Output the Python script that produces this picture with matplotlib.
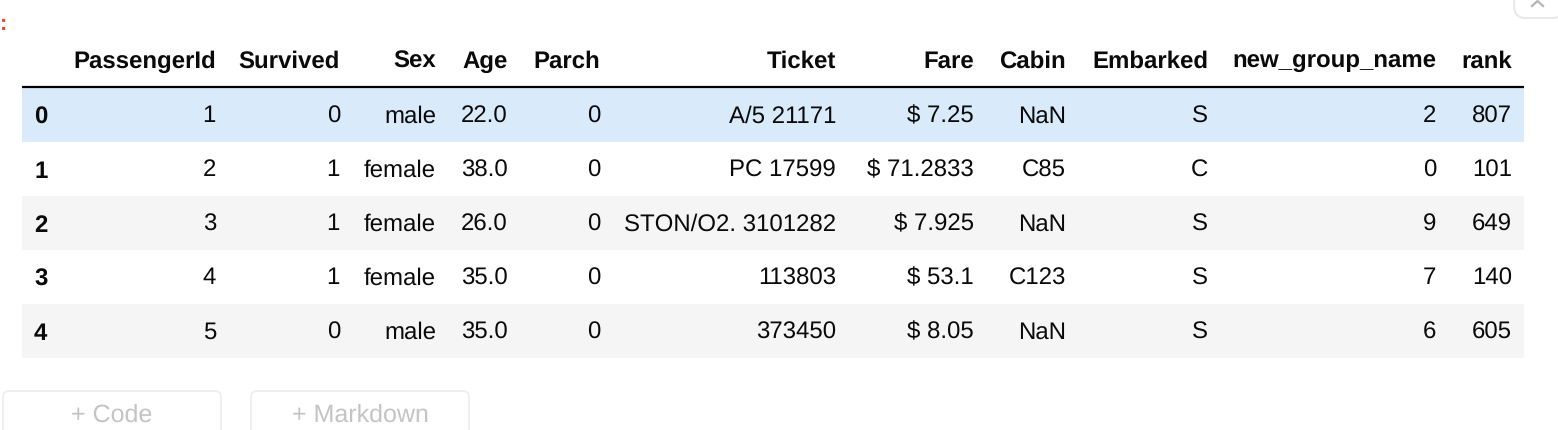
import matplotlib
matplotlib.use("Agg")
import matplotlib.pyplot as plt
from matplotlib.patches import Rectangle, FancyBboxPatch

plt.rcParams['font.family'] = ['Liberation Sans', 'DejaVu Sans']
plt.rcParams['text.hinting'] = 'none'
plt.rcParams['text.hinting_factor'] = 1

# table contents
columns = ['PassengerId', 'Survived', 'Sex', 'Age', 'Parch', 'Ticket', 'Fare',
           'Cabin', 'Embarked', 'new_group_name', 'rank']
index_labels = ['0', '1', '2', '3', '4']
passenger_id = ['1', '2', '3', '4', '5']
survived = ['0', '1', '1', '1', '0']
sex = ['male', 'female', 'female', 'female', 'male']
age = ['22.0', '38.0', '26.0', '35.0', '35.0']
parch = ['0', '0', '0', '0', '0']
ticket = ['A/5 21171', 'PC 17599', 'STON/O2. 3101282', '113803', '373450']
fare = ['$ 7.25', '$ 71.2833', '$ 7.925', '$ 53.1', '$ 8.05']
cabin = ['NaN', 'C85', 'NaN', 'C123', 'NaN']
embarked = ['S', 'C', 'S', 'S', 'S']
new_group_name = ['2', '0', '9', '7', '6']
rank = ['807', '101', '649', '140', '605']

col_values = [passenger_id, survived, sex, age, parch, ticket, fare, cabin,
              embarked, new_group_name, rank]

# layout, all in pixels of the 1558x430 picture
col_right = [216, 340, 436, 508, 600, 836, 974, 1066, 1208, 1436, 1512]
table_left = 22
table_right = 1524
row_top = 88
row_h = 54
fs = 24 * 0.72
ink = '#0a0a0a'

fig = plt.figure(figsize=(15.58, 4.30), dpi=100)
ax = fig.add_axes([0, 0, 1, 1])
ax.set_xlim(0, 1558)
ax.set_ylim(430, 0)
ax.axis('off')

# row backgrounds
for i in range(len(index_labels)):
    if i == 0:
        color = '#d9ebfb'
    elif i % 2 == 0:
        color = '#f5f5f5'
    else:
        continue
    ax.add_patch(Rectangle((table_left, row_top + i * row_h), table_right - table_left,
                           row_h, fc=color, ec='none'))

ax.plot([table_left, table_right], [87, 87], color='black', lw=1.6, solid_capstyle='butt')

# header
for name, x in zip(columns, col_right):
    ax.text(x, 67.5, name, ha='right', va='baseline', fontsize=fs, fontweight='bold', color=ink)

# body
for i, label in enumerate(index_labels):
    y = row_top + i * row_h + 34.5
    ax.text(34, y + 1.5, label, ha='left', va='baseline', fontsize=fs, fontweight='bold', color=ink)
    for values, x in zip(col_values, col_right):
        ax.text(x, y, values[i], ha='right', va='baseline', fontsize=fs, color=ink)

# notebook bits around the table
ax.text(0, 30, ':', ha='left', va='baseline', fontsize=16, fontweight='bold', color='#e8472f')

for x, w, label in [(3, 218, '+ Code'), (251, 218, '+ Markdown')]:
    ax.add_patch(FancyBboxPatch((x, 391), w, 60, boxstyle='round,pad=0,rounding_size=6',
                                fc='white', ec='#eeeeee', lw=1.4))
    ax.text(x + w / 2, 422, label, ha='center', va='baseline', fontsize=25 * 0.72, color='#c4c4c4')

ax.add_patch(FancyBboxPatch((1514, -20), 50, 38, boxstyle='round,pad=0,rounding_size=12',
                            fc='white', ec='#e8e8e8', lw=1.4))
ax.plot([1532, 1537.5, 1543], [6, 1, 6], color='#b5b5b5', lw=1.6)

fig.savefig('out.png', dpi=100)
